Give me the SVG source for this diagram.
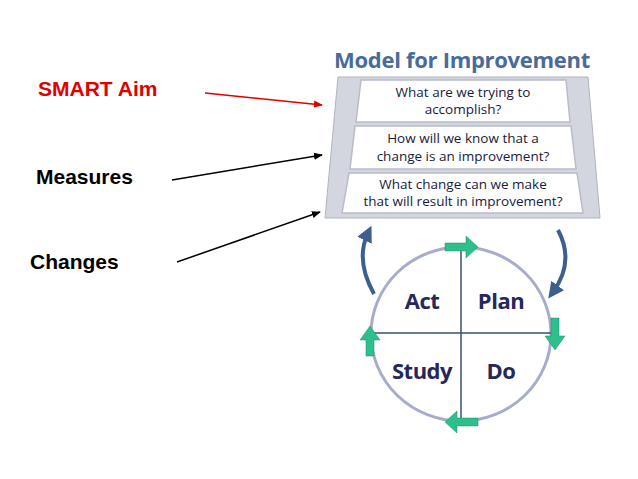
<svg xmlns="http://www.w3.org/2000/svg" width="638" height="479" viewBox="0 0 638 479">
<defs>
<marker id="ahr" viewBox="0 0 10 10" refX="9" refY="5" markerWidth="6" markerHeight="6" orient="auto"><path d="M0,1 L10,5 L0,9 z" fill="#e00000"/></marker>
<marker id="ahk" viewBox="0 0 10 10" refX="9" refY="5" markerWidth="6" markerHeight="6" orient="auto"><path d="M0,1 L10,5 L0,9 z" fill="#000"/></marker>
<marker id="ahb" viewBox="0 0 10 10" refX="5" refY="5" markerWidth="4" markerHeight="4" orient="auto"><path d="M0,0 L10,5 L0,10 z" fill="#3d5f8e"/></marker>
</defs>
<style>
.lbl{font-family:"Liberation Sans",Arial,sans-serif;font-weight:bold;font-size:21px}
.q{font-family:"Open Sans","DejaVu Sans",sans-serif;font-size:13.5px;fill:#1a1a3a;text-anchor:middle}
.p{font-family:"Open Sans","DejaVu Sans",sans-serif;font-weight:bold;font-size:22px;fill:#27275a;text-anchor:middle;letter-spacing:-0.5px}
.box{fill:#fff;stroke:#b8bcc8;stroke-width:1.5}
.g{fill:#2dbf8c;stroke:#1e8f6a;stroke-width:0.5}
</style>
<rect width="638" height="479" fill="#fff"/>
<g id="title"><text x="462" y="68" text-anchor="middle" style="font-family:'Open Sans','DejaVu Sans',sans-serif;font-weight:bold;font-size:22px;fill:#4a6b9a;letter-spacing:-0.3px">Model for Improvement</text></g>
<g id="frame"><path d="M338,77 L588,77 L600,218 L325,218 Z" fill="#d3d6de" stroke="#b0b4c0"/></g>
<g id="q1"><path class="box" d="M361,80 L566,80 L570,122 L356,122 Z"/><text class="q" x="463" y="97">What are we trying to</text><text class="q" x="463" y="114">accomplish?</text></g>
<g id="q2"><path class="box" d="M355,126 L571,126 L576,169 L350,169 Z"/><text class="q" x="463" y="143">How will we know that a</text><text class="q" x="463" y="161">change is an improvement?</text></g>
<g id="q3"><path class="box" d="M349,173 L577,173 L583,213 L342,213 Z"/><text class="q" x="463" y="189">What change can we make</text><text class="q" x="463" y="206">that will result in improvement?</text></g>
<g id="cycle">
<path d="M374,294 Q355,260 368,233" fill="none" stroke="#3d5f8e" stroke-width="4" marker-end="url(#ahb)"/>
<path d="M558,230 Q575,262 553,292" fill="none" stroke="#3d5f8e" stroke-width="4" marker-end="url(#ahb)"/>
<ellipse cx="461" cy="334" rx="90" ry="87" fill="#fff" stroke="#a8accc" stroke-width="3"/>
<line x1="461" y1="247" x2="461" y2="421" stroke="#35507a" stroke-width="1.5"/>
<line x1="371" y1="333" x2="551" y2="333" stroke="#35507a" stroke-width="1.5"/>
<text class="p" x="422" y="309">Act</text><text class="p" x="501" y="309">Plan</text>
<text class="p" x="422" y="379">Study</text><text class="p" x="501" y="379">Do</text>
<path class="g" d="M445,243 L466,243 L466,236 L478,247 L466,258 L466,251 L445,251 Z"/>
<path class="g" d="M551,318 L559,318 L559,336 L565,336 L555,350 L545,336 L551,336 Z"/>
<path class="g" d="M478,418 L457,418 L457,411 L445,422 L457,433 L457,426 L478,426 Z"/>
<path class="g" d="M366,356 L374,356 L374,340 L380,340 L370,326 L360,340 L366,340 Z"/>
</g>
<g id="labels">
<text class="lbl" x="38" y="96" fill="#e00000">SMART Aim</text>
<text class="lbl" x="36" y="184" fill="#000">Measures</text>
<text class="lbl" x="30" y="269" fill="#000">Changes</text>
</g>
<g id="connectors">
<line x1="205" y1="93" x2="322" y2="105" stroke="#e00000" stroke-width="1.5" marker-end="url(#ahr)"/>
<line x1="172" y1="180" x2="322" y2="155" stroke="#000" stroke-width="1.5" marker-end="url(#ahk)"/>
<line x1="177" y1="262" x2="320" y2="212" stroke="#000" stroke-width="1.5" marker-end="url(#ahk)"/>
</g>
</svg>
